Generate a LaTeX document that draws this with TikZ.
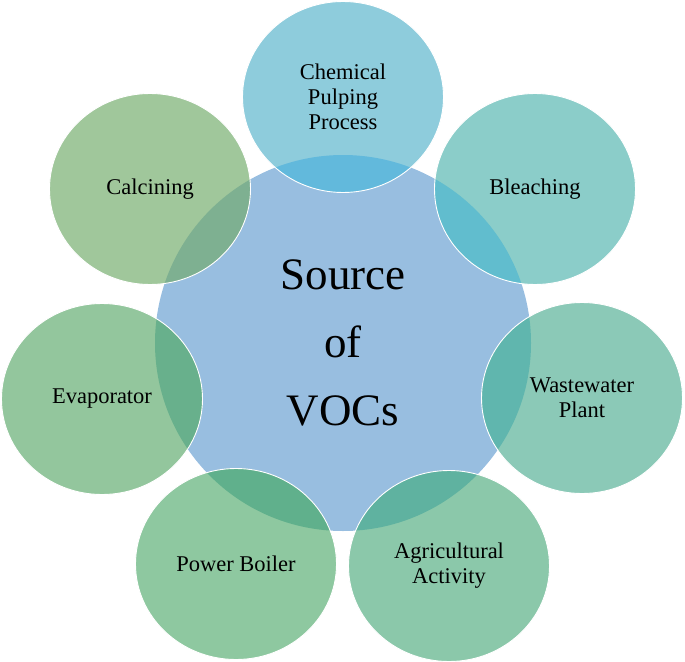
\documentclass[tikz,border=0pt]{standalone}
\usepackage{fontspec}
\newfontfamily\tmsfont{LiberationSerif}[Extension=.ttf, UprightFont=*-Regular, BoldFont=*-Bold]
\usetikzlibrary{shapes.geometric}
\definecolor{cblue}{RGB}{152,190,224}
\definecolor{cchem}{RGB}{142,204,220}
\definecolor{ochem}{RGB}{98,185,220}
\definecolor{cbleach}{RGB}{139,205,201}
\definecolor{obleach}{RGB}{97,189,206}
\definecolor{cwaste}{RGB}{139,201,183}
\definecolor{owaste}{RGB}{96,182,174}
\definecolor{cagri}{RGB}{139,200,170}
\definecolor{oagri}{RGB}{95,178,160}
\definecolor{cpower}{RGB}{142,200,160}
\definecolor{opower}{RGB}{96,176,140}
\definecolor{cevap}{RGB}{147,198,157}
\definecolor{oevap}{RGB}{104,176,140}
\definecolor{ccalc}{RGB}{160,199,155}
\definecolor{ocalc}{RGB}{126,176,145}
\begin{document}
\begin{tikzpicture}[x=1pt,y=-1pt,
  hub/.style={circle, minimum size=376pt, inner sep=0pt, fill=cblue, align=center,
    font=\tmsfont\fontsize{45}{68}\selectfont},
  petal/.style n args={2}{ellipse, minimum width=201pt, minimum height=191pt, inner sep=0pt,
    fill=#1, draw=white, line width=0.9pt, align=center,
    font=\tmsfont\fontsize{22.5}{25}\selectfont,
    path picture={\fill[#2] (src.center) circle (188pt);}},
]
\useasboundingbox (0,0) rectangle (685,661);
\node[hub] (src) at (343,343) {Source\\of\\VOCs};
\node[petal={cchem}{ochem}] (chem) at (343,97) {Chemical\\Pulping\\Process};
\node[petal={cbleach}{obleach}] (bleach) at (535,189) {Bleaching};
\node[petal={cwaste}{owaste}] (waste) at (582,398) {Wastewater\\Plant};
\node[petal={cagri}{oagri}] (agri) at (449,566) {Agricultural\\Activity};
\node[petal={cpower}{opower}] (power) at (236,564) {Power Boiler};
\node[petal={cevap}{oevap}] (evap) at (102,399) {Evaporator};
\node[petal={ccalc}{ocalc}] (calc) at (150,189) {Calcining};
\end{tikzpicture}
\end{document}
